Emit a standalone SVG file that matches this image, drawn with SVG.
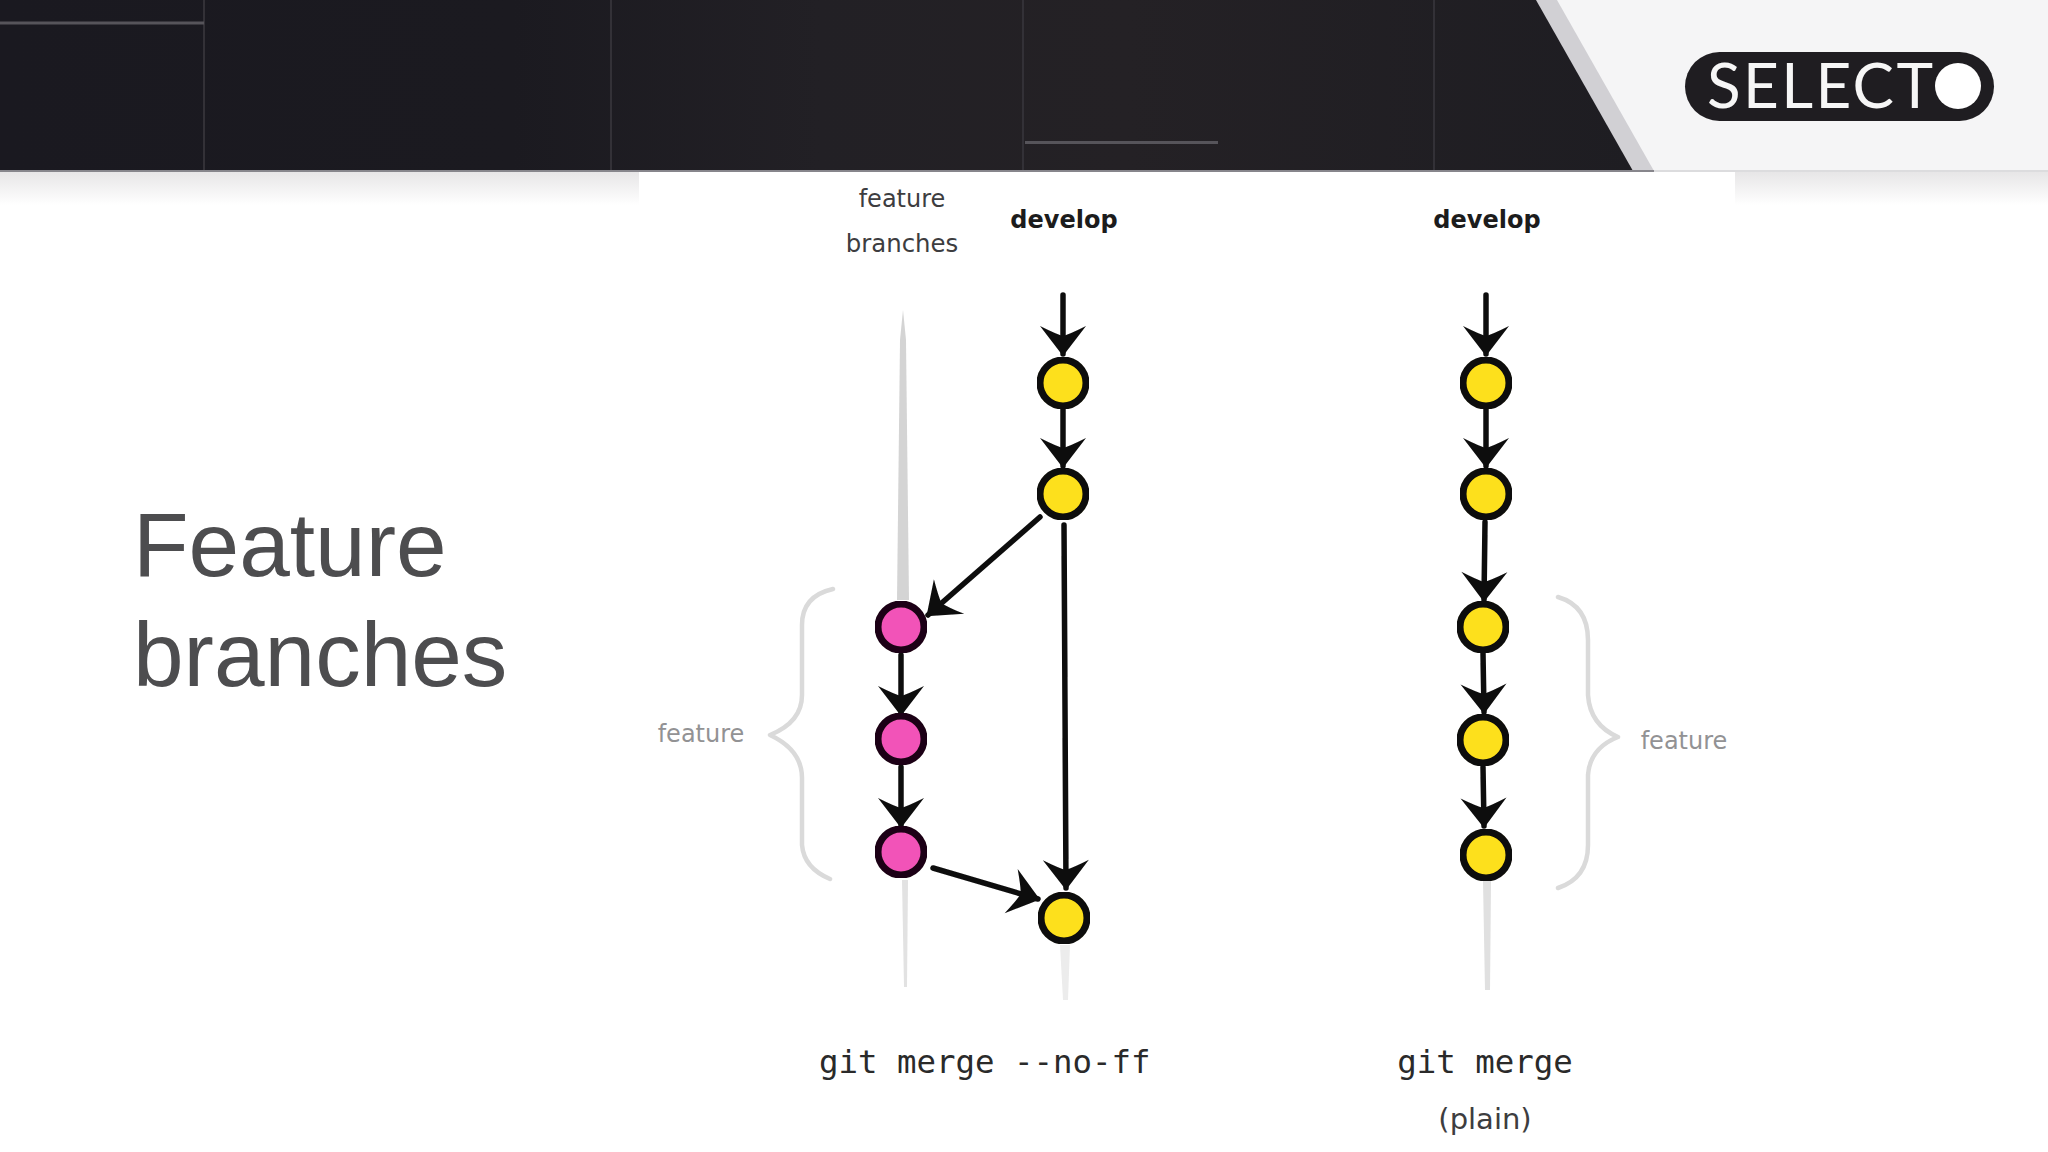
<svg xmlns="http://www.w3.org/2000/svg" width="2048" height="1152" viewBox="0 0 2048 1152">
<style>
.y{fill:#fde01a;stroke:#0d0b08;stroke-width:7}
.p{fill:#f252b8;stroke:#1a0612;stroke-width:7}
.a{fill:none;stroke:#0c0c0c;stroke-width:5.500;stroke-linecap:round;marker-end:url(#h)}
.g{fill:none;stroke:#dadada;stroke-width:4.500;stroke-linecap:round;stroke-linejoin:round}
.s{font-family:"DejaVu Sans",sans-serif;font-size:24px;text-anchor:middle}
.d{fill:#3d3d40}
.l{fill:#929294}
.b{font-weight:700;fill:#1c1c1c}
.m{font-family:"DejaVu Sans Mono","Liberation Mono",monospace;font-size:32.4px;fill:#2a2a2a}
.t{font-family:"Liberation Sans",Arial,sans-serif;font-size:91px;fill:#4d4d4f}
.v{stroke:#333137;stroke-width:2}
.w{stroke:#56545a;stroke-width:3}
</style>
<defs>
<marker id="h" markerUnits="userSpaceOnUse" markerWidth="50" markerHeight="60" refX="42" refY="30" viewBox="0 0 50 60" orient="auto" overflow="visible">
<path d="M44 30 L14 7 Q22 23 24 30 Q22 37 14 53 Z" fill="#0c0c0c"/>
</marker>
<linearGradient id="hd" x1="0" x2="1" y1="0" y2="0">
<stop offset="0" stop-color="#1a1920"/><stop offset=".25" stop-color="#1b1a20"/><stop offset=".4" stop-color="#222025"/><stop offset=".55" stop-color="#242125"/><stop offset=".8" stop-color="#1e1d22"/>
</linearGradient>
<linearGradient id="sh" x1="0" x2="0" y1="0" y2="1">
<stop offset="0" stop-color="#e6e5e6"/><stop offset="1" stop-color="#fff"/>
</linearGradient>
<filter id="soft" x="-5%" y="-5%" width="110%" height="110%"><feGaussianBlur stdDeviation="0.7"/></filter>
</defs>
<rect width="2048" height="1152" fill="#fff"/>
<g id="header">
<rect y="171" width="639" height="34" fill="url(#sh)"/>
<rect x="1735" y="171" width="313" height="34" fill="url(#sh)"/>
<rect width="2048" height="171" fill="url(#hd)"/>
<line class="v" x1="204" y1="0" x2="204" y2="171"/>
<line class="v" x1="611" y1="0" x2="611" y2="171"/>
<line class="v" x1="1023" y1="0" x2="1023" y2="171"/>
<line class="v" x1="1434" y1="0" x2="1434" y2="171"/>
<line class="w" x1="0" y1="23" x2="204" y2="23"/>
<line class="w" x1="1025" y1="142.500" x2="1218" y2="142.500"/>
<polygon points="1536,0 2048,0 2048,171 1633,171" fill="#d1d0d4"/>
<polygon points="1557,0 2048,0 2048,171 1654,171" fill="#f5f5f6"/>
<rect y="170" width="2048" height="2" fill="#87868c"/>
<rect x="1654" y="170" width="394" height="2" fill="#dcdcde"/>
</g>
<g id="logo">
<rect x="1685" y="52" width="309" height="69" rx="34.500" fill="#1f1d21"/>
<text x="1707" y="108" font-family="Lato,sans-serif" font-size="62" fill="#f6f6f6" textLength="226" lengthAdjust="spacing">SELECT</text>
<circle cx="1958" cy="86" r="23" fill="#fff"/>
</g>
<g id="title"><text class="t" x="133" y="576">Feature</text><text class="t" x="133" y="686">branches</text></g>
<g id="branch-lines" filter="url(#soft)">
<polygon points="903,310 906,340 909,600 897,600 900,340" fill="#d4d4d4"/>
<polygon points="902,880 908,880 907,987 904,987" fill="#e2e2e2"/>
<polygon points="1060,945 1070,945 1068,1000 1063,1000" fill="#ececec"/>
<polygon points="1483,880 1491,880 1490,990 1485,990" fill="#e0e0e0"/>
</g>
<g id="labels">
<text class="s d" x="902" y="207">feature</text>
<text class="s d" x="902" y="252" style="font-size:24.400px">branches</text>
<text class="s b" x="1064" y="228">develop</text>
<text class="s b" x="1487" y="228">develop</text>
<text class="s l" x="701" y="742">feature</text>
<text class="s l" x="1684" y="749">feature</text>
<text class="m" x="819" y="1073">git merge --no-ff</text>
<text class="m" x="1485" y="1073" text-anchor="middle">git merge</text>
<text class="s d" x="1485" y="1129" style="font-size:29px">(plain)</text>
</g>
<g id="braces" filter="url(#soft)">
<path class="g" d="M833 589 Q802 596 802 625 V695 Q802 722 770 735 Q802 750 802 778 V845 Q804 868 830 879"/>
<path class="g" d="M1558 597 Q1588 606 1588 640 V695 Q1590 725 1618 737 Q1590 748 1588 775 V845 Q1588 878 1558 888"/>
</g>
<g id="connectors" filter="url(#soft)">
<path class="a" d="M1063 295V354"/>
<path class="a" d="M1063 408V466"/>
<path class="a" d="M1040 517L928 615"/>
<path class="a" d="M1064 525L1066 888"/>
<path class="a" d="M901 655V714"/>
<path class="a" d="M901 767V826"/>
<path class="a" d="M933 868L1038 899"/>
<path class="a" d="M1486 295V354"/>
<path class="a" d="M1486 408V466"/>
<path class="a" d="M1485 522L1484 600"/>
<path class="a" d="M1483 653L1484 712"/>
<path class="a" d="M1483 767L1484 826"/>
</g>
<g id="n1" filter="url(#soft)"><circle class="y" cx="1063" cy="383" r="23"/></g>
<g id="n2" filter="url(#soft)"><circle class="y" cx="1063" cy="494" r="23"/></g>
<g id="n3" filter="url(#soft)"><circle class="p" cx="901" cy="627" r="23"/></g>
<g id="n4" filter="url(#soft)"><circle class="p" cx="901" cy="739" r="23"/></g>
<g id="n5" filter="url(#soft)"><circle class="p" cx="901" cy="852" r="23"/></g>
<g id="n6" filter="url(#soft)"><circle class="y" cx="1064" cy="918" r="23"/></g>
<g id="n7" filter="url(#soft)"><circle class="y" cx="1486" cy="383" r="23"/></g>
<g id="n8" filter="url(#soft)"><circle class="y" cx="1486" cy="494" r="23"/></g>
<g id="n9" filter="url(#soft)"><circle class="y" cx="1483" cy="627" r="23"/></g>
<g id="n10" filter="url(#soft)"><circle class="y" cx="1483" cy="740" r="23"/></g>
<g id="n11" filter="url(#soft)"><circle class="y" cx="1486" cy="855" r="23"/></g>
</svg>
